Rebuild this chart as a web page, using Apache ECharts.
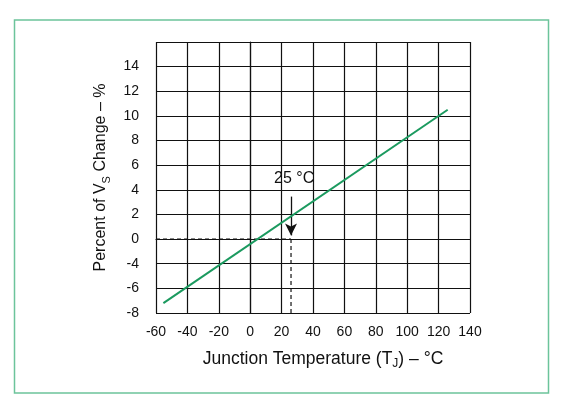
<!DOCTYPE html>
<html>
<head>
<meta charset="utf-8">
<script src="https://cdn.jsdelivr.net/npm/echarts@6/dist/echarts.min.js"></script>
<style>
  html, body { margin: 0; padding: 0; background: #fff; }
  #chart { width: 563px; height: 413px; }
</style>
</head>
<body>
<div id="chart"></div>
<script>
// x axis: junction temperature, °C
const xMin = -60, xMax = 140, xStep = 20;
// y axis gridline values and the labels printed on them (the print skips "-2")
const yValues = [-6, -4, -2, 0, 2, 4, 6, 8, 10, 12, 14, 16];
const yTickLabels = ['-8', '-6', '-4', '0', '2', '4', '6', '8', '10', '12', '14', ''];

// the green curve, [temperature, % change]
const vsChange = [[-55.3, -5.2], [125.8, 10.5]];

// 25 °C reference marker
const refTemp = 26;
const refHoriz = [[xMin, 0], [refTemp, 0]];
const refVert = [[refTemp, 0], [refTemp, -6]];
const arrowFrom = [refTemp, 3.45];
const arrowTo = [refTemp, 0.3];
const refLabel = [[28, 4.95]];

const font = 'Liberation Sans';
const ink = '#111';

const chart = echarts.init(document.getElementById('chart'));

chart.setOption({
  animation: false,
  backgroundColor: '#fff',
  graphic: [{
    type: 'rect',
    shape: { x: 14.5, y: 20, width: 534, height: 373 },
    style: { fill: 'none', stroke: '#6cc49b', lineWidth: 1.5 },
    silent: true
  }],
  grid: { left: 156, right: 93, top: 42, bottom: 100, show: false },
  xAxis: {
    type: 'value',
    min: xMin, max: xMax, interval: xStep,
    name: 'Junction Temperature (T{sub|J}) – °C',
    nameLocation: 'middle',
    nameGap: 35,
    nameTextStyle: {
      fontFamily: font, fontSize: 17.5, color: ink, lineHeight: 22,
      padding: [0, 0, 0, 20],
      rich: { sub: { fontFamily: font, fontSize: 12, color: ink, verticalAlign: 'bottom', lineHeight: 22 } }
    },
    axisLine: { show: true, lineStyle: { color: '#111', width: 1.2 } },
    axisTick: { show: false },
    splitLine: { show: true, lineStyle: { color: '#111', width: 1.2 } },
    axisLabel: { fontFamily: font, fontSize: 14, color: ink, margin: 12 }
  },
  yAxis: {
    type: 'value',
    min: yValues[0], max: yValues[yValues.length - 1], interval: 2,
    name: 'Percent of V{sub|S} Change – %',
    nameLocation: 'middle',
    nameGap: 44,
    nameTextStyle: {
      fontFamily: font, fontSize: 16, color: ink, lineHeight: 22,
      rich: { sub: { fontFamily: font, fontSize: 11, color: ink, verticalAlign: 'bottom', lineHeight: 22 } }
    },
    axisLine: { show: true, lineStyle: { color: '#111', width: 1.2 } },
    axisTick: { show: false },
    splitLine: { show: true, lineStyle: { color: '#111', width: 1.2 } },
    axisLabel: {
      fontFamily: font, fontSize: 14, color: ink, margin: 17,
      formatter: (v) => {
        const i = yValues.indexOf(v);
        return i >= 0 ? yTickLabels[i] : '';
      }
    }
  },
  series: [
    {
      type: 'line',
      data: refHoriz,
      symbol: 'none',
      lineStyle: { color: '#111', width: 1.2, type: [4, 3] },
      z: 3
    },
    {
      type: 'line',
      data: refVert,
      symbol: 'none',
      lineStyle: { color: '#111', width: 1.2, type: [4, 3] },
      z: 3,
      markLine: {
        silent: true,
        symbol: ['none', 'arrow'],
        symbolSize: [9, 12],
        label: { show: false },
        lineStyle: { color: '#111', width: 1.3, type: 'solid' },
        data: [[{ coord: arrowFrom }, { coord: arrowTo }]]
      }
    },
    {
      type: 'scatter',
      data: refLabel,
      symbolSize: 0,
      itemStyle: { opacity: 1 },
      label: {
        show: true,
        position: 'inside',
        formatter: '25 °C',
        fontFamily: font, fontSize: 16, color: ink, opacity: 1
      },
      z: 4
    },
    {
      type: 'line',
      data: vsChange,
      symbol: 'none',
      lineStyle: { color: '#1b9a5f', width: 2 },
      z: 5
    }
  ]
});
</script>
</body>
</html>
